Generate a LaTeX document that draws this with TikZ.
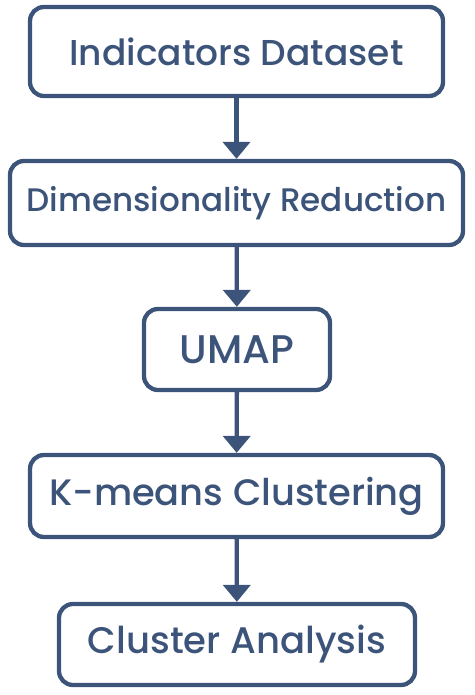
\documentclass[tikz,border=0pt]{standalone}
\usepackage{fontspec}
\setmainfont{Poppins}[UprightFont=* Medium]
\usetikzlibrary{arrows.meta}
\definecolor{boxblue}{RGB}{61,84,122}
\begin{document}
\begin{tikzpicture}[x=1pt,y=1pt,
  stepbox/.style={draw=boxblue, line width=4.3pt, rounded corners=14pt,
    text=boxblue, inner sep=0pt, font=\fontsize{36}{41}\selectfont},
  flow/.style={draw=boxblue, line width=4.3pt,
    -{Triangle[length=17pt,width=27pt]}}]
\useasboundingbox (0,0) rectangle (474,-695);

% steps of the pipeline
\node[stepbox, minimum width=413pt, minimum height=89pt] (dataset) at (236.5,-51.5) {Indicators Dataset};
\node[stepbox, minimum width=453pt, minimum height=84pt, font=\fontsize{32.6}{38}\selectfont] (reduction) at (236.5,-203) {Dimensionality Reduction};
\node[stepbox, minimum width=186pt, minimum height=81pt, font=\fontsize{40}{46}\selectfont] (umap) at (237,-349.5) {UMAP};
\node[stepbox, minimum width=413pt, minimum height=82pt, font=\fontsize{36.8}{42}\selectfont] (kmeans) at (236.5,-496) {K-means Clustering};
\node[stepbox, minimum width=356pt, minimum height=81pt, font=\fontsize{37}{42}\selectfont] (analysis) at (237,-644.5) {Cluster Analysis};

% arrows
\draw[flow] (dataset) -- (reduction);
\draw[flow] (reduction) -- (umap);
\draw[flow] (umap) -- (kmeans);
\draw[flow] (kmeans) -- (analysis);
\end{tikzpicture}
\end{document}
